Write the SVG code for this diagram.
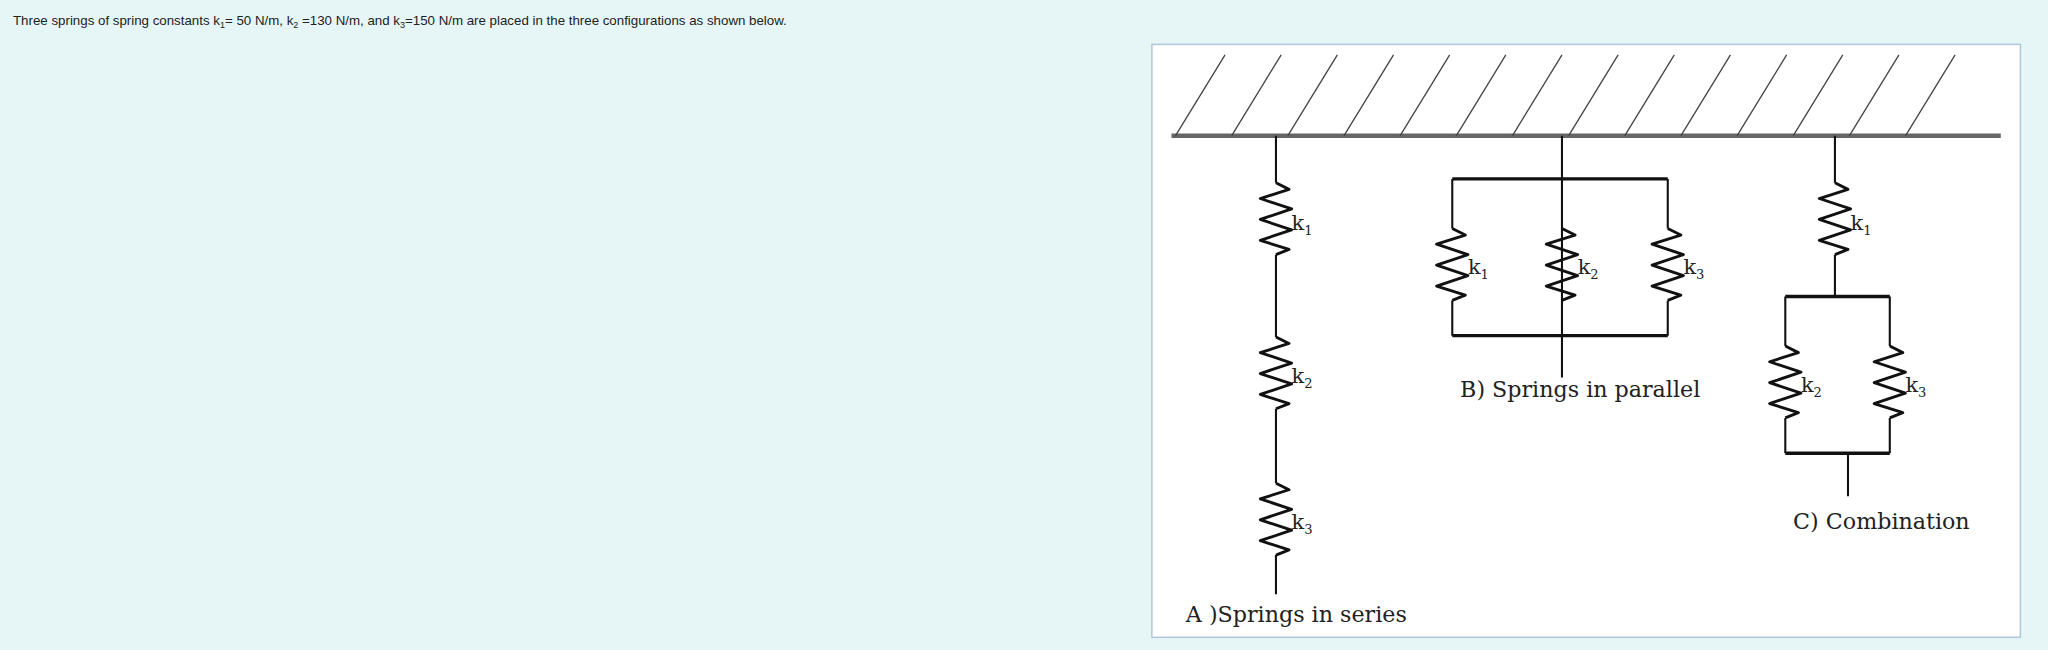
<svg xmlns="http://www.w3.org/2000/svg" width="2048" height="650" viewBox="0 0 2048 650">
<style>
.ln{stroke:#111;stroke-width:1.6;fill:none}
.sp{stroke:#111;stroke-width:2.2;fill:none;stroke-linejoin:round}
.bar{stroke:#111;stroke-width:2.6;fill:none}
.lbl{font-family:"DejaVu Serif",serif;font-size:17px;fill:#222}
.k{font-family:"DejaVu Serif",serif;font-size:16px;fill:#222}
.ks{font-size:10px}
</style>
<defs>
<path id="spr" class="sp" d="M0,0 L10,5 L-12,12 L12,20 L-12,28 L12,36 L-12,44 L10,51 L0,55"/>
</defs>
<rect width="2048" height="650" fill="#e6f6f6"/>
<text x="13" y="25" font-family="Liberation Sans,Arial,sans-serif" font-size="13.3" fill="#222">Three springs of spring constants k<tspan font-size="9" dy="3">1</tspan><tspan dy="-3">= 50  N/m, k</tspan><tspan font-size="9" dy="3">2</tspan><tspan dy="-3"> =130  N/m, and k</tspan><tspan font-size="9" dy="3">3</tspan><tspan dy="-3">=150  N/m are placed in the three configurations as shown below.</tspan></text>
<g transform="scale(1.306)">
<rect x="882" y="34" width="665" height="454" fill="#fff" stroke="#b4c8dc" stroke-width="1.2"/>
<g id="ceiling">
<line x1="897" y1="104" x2="1532" y2="104" stroke="#666" stroke-width="3.5"/>
<path fill="none" stroke="#444" stroke-width="1" d="M900,104 L938,42 M943,104 L981,42 M986,104 L1024,42 M1029,104 L1067,42 M1072,104 L1110,42 M1115,104 L1153,42 M1158,104 L1196,42 M1201,104 L1239,42 M1244,104 L1282,42 M1287,104 L1325,42 M1330,104 L1368,42 M1373,104 L1411,42 M1416,104 L1454,42 M1459,104 L1497,42"/>
</g>
<g id="connectors">
<path class="ln" d="M977,104 V140 M977,195 V258 M977,313 V370 M977,425 V455"/>
<path class="ln" d="M1196,104 V289 M1112,137 V175 M1112,230 V257 M1277,137 V175 M1277,230 V257"/>
<path class="bar" d="M1112,137 H1277 M1112,257 H1277"/>
<path class="ln" d="M1405,104 V140 M1405,195 V227 M1367,227 V265 M1367,320 V347 M1447,227 V265 M1447,320 V347 M1415,347 V380"/>
<path class="bar" d="M1367,227 H1447 M1367,347 H1447"/>
</g>
<g id="seriesA">
<use href="#spr" x="977" y="140"/><use href="#spr" x="977" y="258"/><use href="#spr" x="977" y="370"/>
<text class="k" x="989" y="176">k<tspan class="ks" dy="4">1</tspan></text>
<text class="k" x="989" y="293">k<tspan class="ks" dy="4">2</tspan></text>
<text class="k" x="989" y="405">k<tspan class="ks" dy="4">3</tspan></text>
<text class="lbl" x="908" y="476">A )Springs in series</text>
</g>
<g id="parallelB">
<use href="#spr" x="1112" y="175"/><use href="#spr" x="1196" y="175"/><use href="#spr" x="1277" y="175"/>
<text class="k" x="1124" y="210">k<tspan class="ks" dy="4">1</tspan></text>
<text class="k" x="1208" y="210">k<tspan class="ks" dy="4">2</tspan></text>
<text class="k" x="1289" y="210">k<tspan class="ks" dy="4">3</tspan></text>
<text class="lbl" x="1118" y="304">B) Springs in parallel</text>
</g>
<g id="combinationC">
<use href="#spr" x="1405" y="140"/><use href="#spr" x="1367" y="265"/><use href="#spr" x="1447" y="265"/>
<text class="k" x="1417" y="176">k<tspan class="ks" dy="4">1</tspan></text>
<text class="k" x="1379" y="300">k<tspan class="ks" dy="4">2</tspan></text>
<text class="k" x="1459" y="300">k<tspan class="ks" dy="4">3</tspan></text>
<text class="lbl" x="1373" y="405">C) Combination</text>
</g>
</g>
</svg>
